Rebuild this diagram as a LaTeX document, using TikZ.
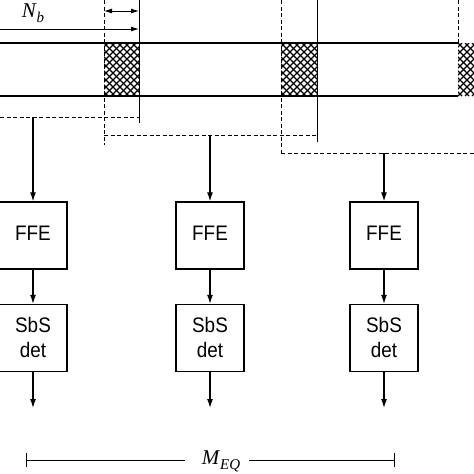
\documentclass[tikz,border=0pt]{standalone}
\usepackage{fontspec}
\usepackage{graphicx}
\setmainfont{Liberation Serif}
\newfontfamily\boxfont{Liberation Sans}
\usetikzlibrary{arrows.meta}
\newcommand{\boxtxt}[2]{\raisebox{#1}[\height][\depth]{\scalebox{0.9}[1]{\begin{tabular}{@{}c@{}}#2\end{tabular}}}}
\begin{document}
\begin{tikzpicture}[x=1pt,y=-1pt,
  arr/.style={line width=1.2pt,-{Latex[length=9pt,width=6pt]}},
  box/.style={draw, line width=1.3pt, minimum width=68pt, minimum height=67pt, inner sep=0pt,
    font=\boxfont\fontsize{21}{25}\selectfont, align=center},
  dsh/.style={dash pattern=on 4pt off 2.5pt, line width=0.9pt},
  strip/.style={line width=1.6pt},
  thinl/.style={line width=0.9pt},
  hatchl/.style={line width=1.4pt}]
\useasboundingbox (0,0) rectangle (474,474);

% hatched blocks
\foreach \a/\b in {104/139, 281/317, 458/490} {
  \begin{scope}
    \clip (\a,43) rectangle (\b,96);
    \foreach \k in {-63,-56,...,42} {
      \draw[hatchl] (\a+\k,43) -- ++(53,53);
      \draw[hatchl] (\a+\k,96) -- ++(53,-53);
    }
  \end{scope}
}
% strip
\draw[strip] (0,43) -- (458,43);
\draw[strip] (0,96) -- (458,96);

% dashed verticals
\draw[dsh] (104,0) -- (104,145);
\draw[dsh] (281,0) -- (281,153);
\draw[dsh] (458,0) -- (458,43);
% solid verticals
\draw[thinl] (139,0) -- (139,123);
\draw[thinl] (317,0) -- (317,142);
% dashed horizontals
\coordinate (c1) at (33,117);
\coordinate (c2) at (210,135);
\coordinate (c3) at (384,153);
\draw[dsh] (0,117) -- (139,117);
\draw[dsh] (104,135) -- (317,135);
\draw[dsh] (281,153) -- (474,153);

% N_b arrows
\coordinate (nbL) at (104,11);
\coordinate (nbR) at (139,11);
\coordinate (nL) at (0,29);
\coordinate (nR) at (139,29);
\draw[thinl,{Latex[length=8pt,width=5pt]}-{Latex[length=8pt,width=5pt]}] (nbL) -- (nbR);
\draw[thinl,-{Latex[length=8pt,width=5pt]}] (nL) -- (nR);
\node (nb) at (33,13) {\fontsize{21}{21}\selectfont\textit{N}\raisebox{-5pt}{\fontsize{15}{15}\selectfont\textit{b}}};

% boxes
\foreach \i/\x in {1/33, 2/210, 3/384} {
  \node[box] (f\i) at (\x,235.5) {\boxtxt{0pt}{FFE}};
  \node[box] (s\i) at (\x,338) {\boxtxt{-2pt}{SbS\\det}};
  \coordinate (o\i) at (\x,408);
  \draw[arr] (c\i) -- (f\i.north);
  \draw[arr] (f\i.south) -- (s\i.north);
  \draw[arr] (s\i.south) -- (o\i);
}

% M_EQ
\node (meq) at (221,461) {\fontsize{21}{21}\selectfont\textit{M}\raisebox{-5pt}{\fontsize{15}{15}\selectfont\textit{EQ}}};
\coordinate (mL) at (26,460);
\coordinate (mR) at (394,460);
\coordinate (gL) at (185,460);
\coordinate (gR) at (249,460);
\draw[thinl] (mL) -- (gL);
\draw[thinl] (gR) -- (mR);
\draw[thinl] (26,453) -- (26,467);
\draw[thinl] (394,453) -- (394,467);
\end{tikzpicture}
\end{document}
